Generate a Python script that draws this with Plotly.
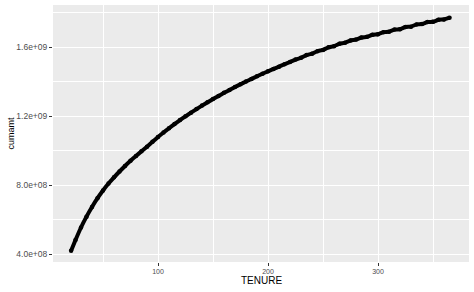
import plotly.graph_objects as go

tenure = [21, 25, 30, 35, 40, 45, 50, 55, 60, 65, 70, 75, 80, 85, 90, 95, 100,
          105, 110, 115, 120, 125, 130, 135, 140, 145, 150, 155, 160, 165, 170,
          175, 180, 185, 190, 195, 200, 205, 210, 215, 220, 225, 230, 235, 240,
          245, 250, 255, 260, 265, 270, 275, 280, 285, 290, 295, 300, 305, 310,
          315, 320, 325, 330, 335, 340, 345, 350, 355, 360, 365]
cumamt = [4.20e8, 4.82e8, 5.55e8, 6.18e8, 6.74e8, 7.25e8, 7.70e8, 8.10e8, 8.46e8,
          8.80e8, 9.12e8, 9.42e8, 9.70e8, 9.97e8, 1.024e9, 1.052e9, 1.080e9,
          1.106e9, 1.131e9, 1.155e9, 1.178e9, 1.200e9, 1.221e9, 1.242e9, 1.262e9,
          1.281e9, 1.300e9, 1.318e9, 1.336e9, 1.353e9, 1.370e9, 1.386e9, 1.402e9,
          1.417e9, 1.432e9, 1.447e9, 1.461e9, 1.475e9, 1.488e9, 1.502e9, 1.515e9,
          1.529e9, 1.539e9, 1.555e9, 1.563e9, 1.578e9, 1.585e9, 1.600e9, 1.607e9,
          1.621e9, 1.627e9, 1.640e9, 1.645e9, 1.657e9, 1.661e9, 1.673e9, 1.676e9,
          1.688e9, 1.691e9, 1.703e9, 1.705e9, 1.718e9, 1.720e9, 1.733e9, 1.735e9,
          1.747e9, 1.748e9, 1.760e9, 1.762e9, 1.772e9]

x_ticks = [100, 200, 300]
y_ticks = [4.0e8, 8.0e8, 1.2e9, 1.6e9]
y_tick_labels = ["4.0e+08", "8.0e+08", "1.2e+09", "1.6e+09"]

fig = go.Figure()
fig.add_trace(go.Scatter(
    x=tenure, y=cumamt, mode="lines+markers",
    line=dict(color="black", width=4, shape="spline", smoothing=0.4),
    marker=dict(color="black", size=4.5),
    showlegend=False, hoverinfo="skip",
))

font = "Liberation Sans, Arial, sans-serif"
W, H = 474, 292
L, R, T, B = 53, 5, 5, 30
fig.update_layout(
    width=W, height=H,
    margin=dict(l=L, r=R, t=T, b=B),
    paper_bgcolor="white",
    plot_bgcolor="#EBEBEB",
    font=dict(family=font, color="#4D4D4D", size=8),
    xaxis=dict(
        range=[4.55, 382.7],
        tickmode="array", tickvals=x_ticks,
        ticks="outside", ticklen=3, tickcolor="#333333", tickwidth=1,
        tickfont=dict(size=7, color="#4D4D4D"),
        showgrid=True, gridcolor="white", gridwidth=1,
        minor=dict(tickmode="linear", tick0=0, dtick=50, showgrid=True,
                   gridcolor="white", gridwidth=0.5, ticks=""),
        zeroline=False, showline=False,
    ),
    yaxis=dict(
        range=[3.55e8, 1.8456e9],
        tickmode="array", tickvals=y_ticks, ticktext=y_tick_labels,
        ticks="outside", ticklen=3, tickcolor="#333333", tickwidth=1,
        tickfont=dict(size=8.5, color="#4D4D4D"),
        showgrid=True, gridcolor="white", gridwidth=1,
        minor=dict(tickmode="linear", tick0=0, dtick=2e8, showgrid=True,
                   gridcolor="white", gridwidth=0.5, ticks=""),
        zeroline=False, showline=False,
    ),
    annotations=[
        dict(text="TENURE", xref="paper", yref="paper", x=0.5,
             y=-(280.5 - (H - B)) / (H - T - B), xanchor="center", yanchor="middle",
             showarrow=False, font=dict(size=10, color="black", family=font)),
        dict(text="cumamt", xref="paper", yref="paper",
             x=-(L - 10) / (W - L - R), y=0.5, xanchor="center", yanchor="middle",
             textangle=-90, showarrow=False,
             font=dict(size=9, color="black", family=font)),
    ],
)

fig.write_html("out.html")
